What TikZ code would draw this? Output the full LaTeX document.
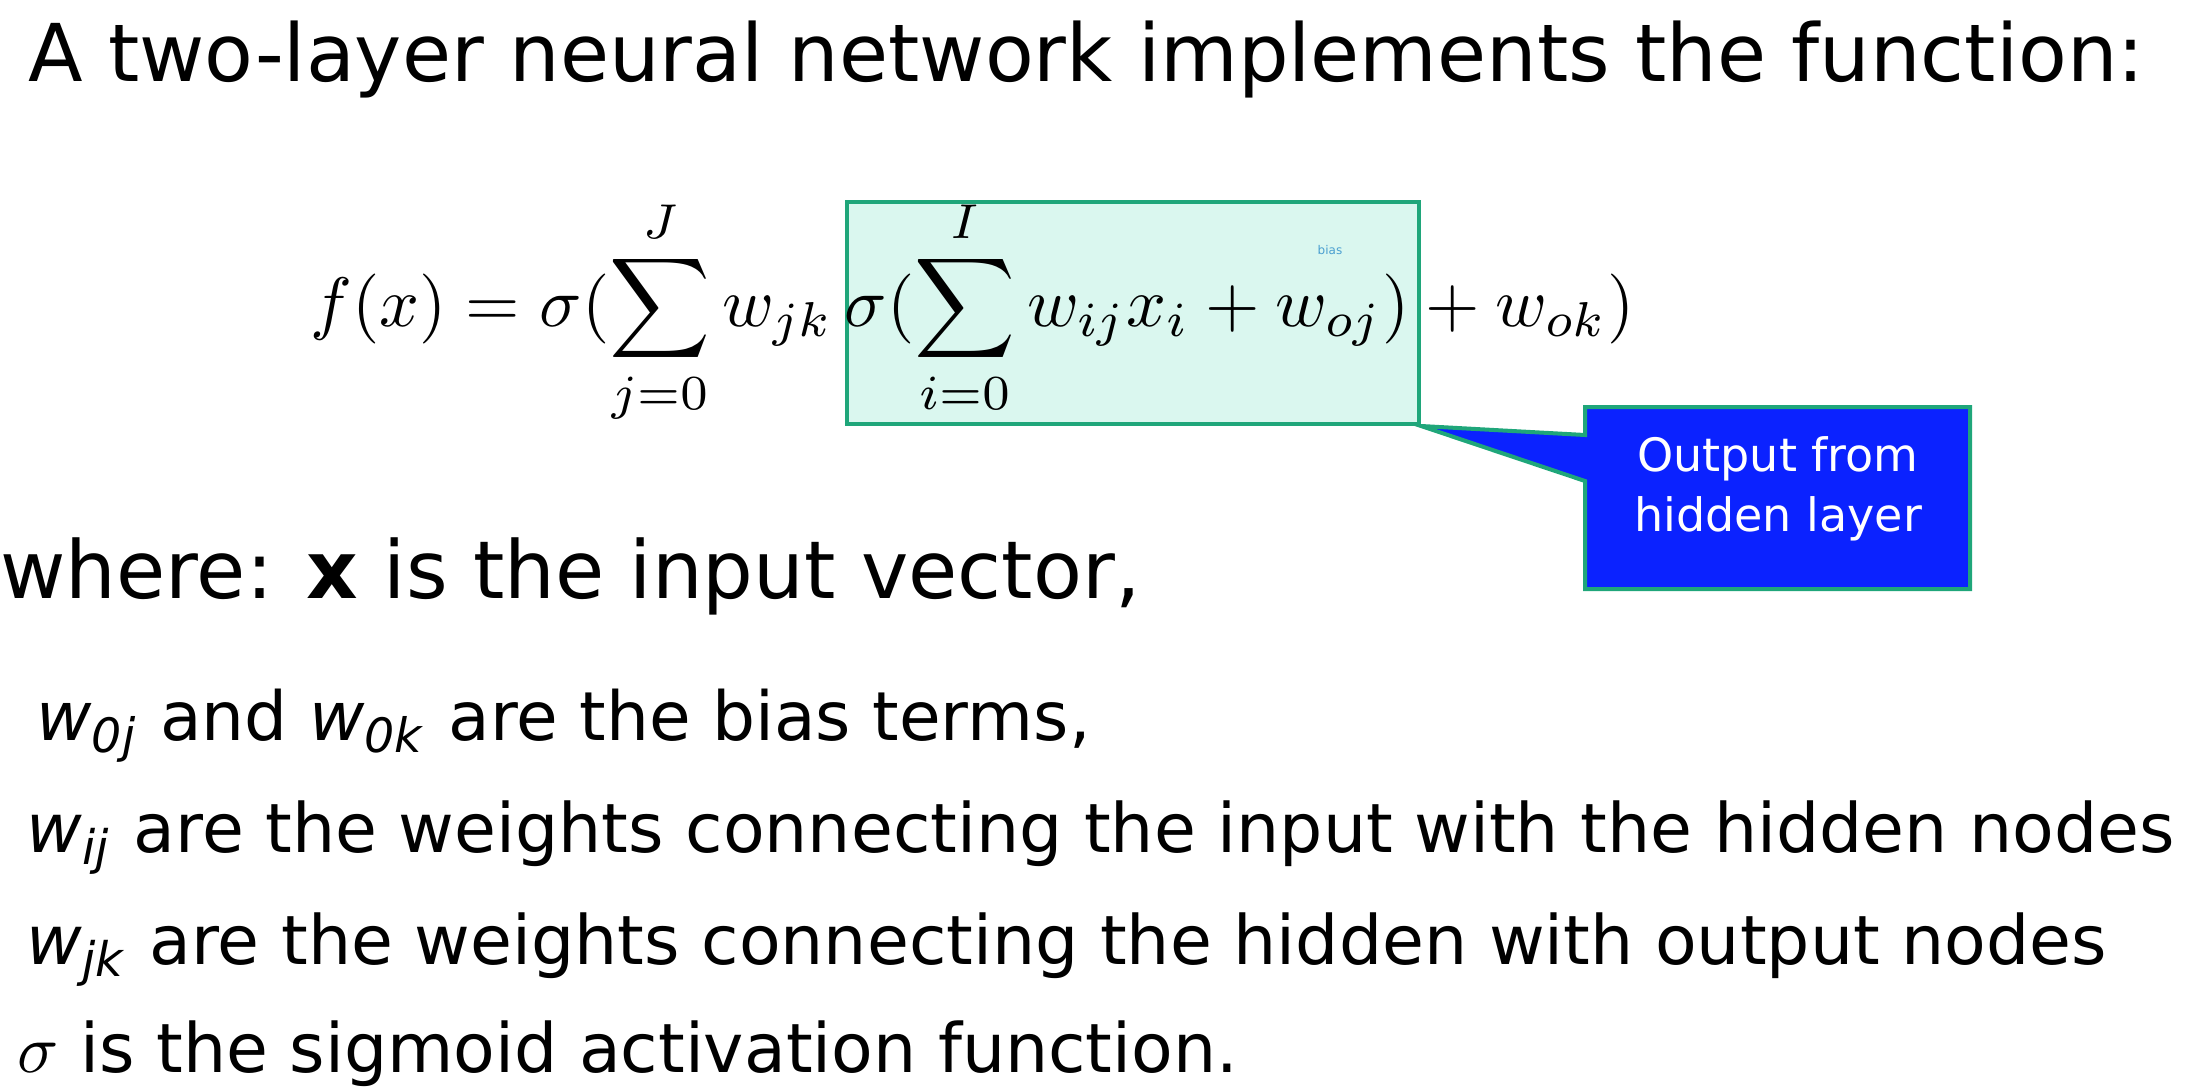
\documentclass[tikz,border=0pt]{standalone}
\usepackage{fontspec}
\setmainfont{DejaVu Sans}
\usepackage{amsmath}
\usepackage{graphicx}
\definecolor{gbord}{HTML}{1FA67A}
\definecolor{gfill}{HTML}{DAF7EF}
\definecolor{cblue}{HTML}{0B22FF}
\definecolor{biasc}{HTML}{4A9FD0}
\tikzset{line/.style={anchor=base west,inner sep=0pt}}
\begin{document}
\begin{tikzpicture}[x=0.5pt,y=-0.5pt]
\useasboundingbox (0,0) rectangle (2204,1086);
\node[line] (title) at (28,82) {\resizebox{1058pt}{!}{A two-layer neural network implements the function:}};
\node[draw=gbord,line width=2pt,fill=gfill,minimum width=286pt,minimum height=111pt,inner sep=0pt] (hid) at (1133,313) {};
\node[anchor=west,inner sep=0pt] (formula) at (310,312) {\resizebox{662pt}{!}{$\displaystyle f(x)=\sigma(\sum_{j=0}^{J} w_{jk}\,\sigma(\sum_{i=0}^{I} w_{ij}x_i + w_{oj}) + w_{ok})$}};
\node[text=biasc,font=\fontsize{6}{7}\selectfont] (bias) at (1330,250) {bias};
\coordinate (tip) at (hid.south east);
\draw[gbord,line width=2pt,fill=cblue,line join=miter] (tip) -- (1585,435) -- (1585,407) -- (1970,407) -- (1970,589) -- (1585,589) -- (1585,481) -- cycle;
\node[text=white,align=center,font=\fontsize{23}{30}\selectfont] (callout) at (1778,489) {Output from\\hidden layer};
\node[line] (l1) at (0,598) {\resizebox{570pt}{!}{where: $\mathbf{x}$ is the input vector,}};
\node[line] (l2) at (36,740) {\resizebox{527pt}{!}{\textit{w}\textsubscript{\textit{0j}} and \textit{w}\textsubscript{\textit{0k}} are the bias terms,}};
\node[line] (l3) at (26,852) {\resizebox{1074pt}{!}{\textit{w}\textsubscript{\textit{ij}} are the weights connecting the input with the hidden nodes}};
\node[line] (l4) at (26,964) {\resizebox{1040pt}{!}{\textit{w}\textsubscript{\textit{jk}} are the weights connecting the hidden with output nodes}};
\node[line] (l5) at (17,1072) {\resizebox{610pt}{!}{$\sigma$ is the sigmoid activation function.}};
\end{tikzpicture}
\end{document}
